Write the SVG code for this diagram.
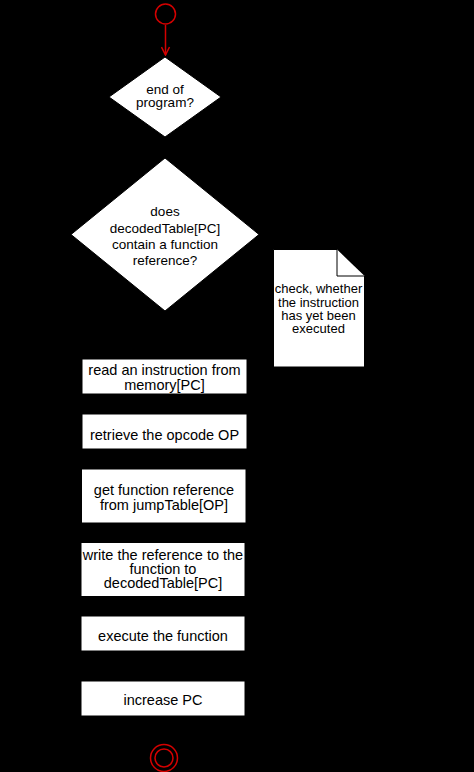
<svg xmlns="http://www.w3.org/2000/svg" width="474" height="772" viewBox="0 0 474 772">
<defs>
<style>
.bg{fill:#000}
.shape{fill:#fff;stroke:#000;stroke-width:1}
.red{fill:none;stroke:#d40000;stroke-width:1.5}
.t{font-family:"Liberation Sans",Arial,sans-serif;fill:#000;text-anchor:middle}
.r{font-size:14.5px}
.d{font-size:13.5px}
.n{font-size:13px}
</style>
<marker id="arr" viewBox="0 0 10 10" refX="9" refY="5" markerWidth="10" markerHeight="10" markerUnits="userSpaceOnUse" orient="auto">
<path d="M1,1 L9,5 L1,9" fill="none" stroke="#d40000" stroke-width="1.5"/>
</marker>
</defs>
<rect class="bg" x="0" y="0" width="474" height="772"/>
<g id="connectors">
<line class="red" x1="165.5" y1="25" x2="165.5" y2="55" marker-end="url(#arr)"/>
</g>
<g id="start">
<circle class="red" cx="165.5" cy="14" r="10"/>
</g>
<g id="endOfProgram">
<polygon class="shape" points="165,57 221,97 165,137 109,97"/>
<text class="t d" x="165" y="94">end of</text>
<text class="t d" x="165" y="107">program?</text>
</g>
<g id="decodedCheck">
<polygon class="shape" points="165,158 259,234.5 165,311 71,234.5"/>
<text class="t d" x="165" y="216">does</text>
<text class="t d" x="165" y="233">decodedTable[PC]</text>
<text class="t d" x="165" y="249">contain a function</text>
<text class="t d" x="165" y="265">reference?</text>
</g>
<g id="note">
<path class="shape" d="M273.5,249.5 H337 L364.5,276 V367 H273.5 Z"/>
<path class="shape" d="M337,249.5 V276 H364.5"/>
<text class="t n" x="318.5" y="293">check, whether</text>
<text class="t n" x="318.5" y="307">the instruction</text>
<text class="t n" x="318.5" y="320">has yet been</text>
<text class="t n" x="318.5" y="333">executed</text>
</g>
<g id="readInstruction">
<rect class="shape" x="82" y="359" width="165" height="35"/>
<text class="t r" x="164.5" y="375">read an instruction from</text>
<text class="t r" x="164.5" y="390">memory[PC]</text>
</g>
<g id="retrieveOpcode">
<rect class="shape" x="82" y="414" width="165" height="35"/>
<text class="t r" x="164.5" y="440">retrieve the opcode OP</text>
</g>
<g id="getFunction">
<rect class="shape" x="81.5" y="469" width="164.5" height="54"/>
<text class="t r" x="164" y="495">get function reference</text>
<text class="t r" x="164" y="510">from jumpTable[OP]</text>
</g>
<g id="writeReference">
<rect class="shape" x="81" y="542.5" width="164" height="54"/>
<text class="t r" x="163" y="560">write the reference to the</text>
<text class="t r" x="163" y="574">function to</text>
<text class="t r" x="163" y="588">decodedTable[PC]</text>
</g>
<g id="executeFunction">
<rect class="shape" x="81" y="616" width="164" height="35"/>
<text class="t r" x="163" y="641">execute the function</text>
</g>
<g id="increasePC">
<rect class="shape" x="81" y="681" width="164" height="35"/>
<text class="t r" x="163" y="705">increase PC</text>
</g>
<g id="end">
<circle class="red" cx="164" cy="758" r="13.5"/>
<circle class="red" cx="164" cy="758" r="9"/>
</g>
</svg>
